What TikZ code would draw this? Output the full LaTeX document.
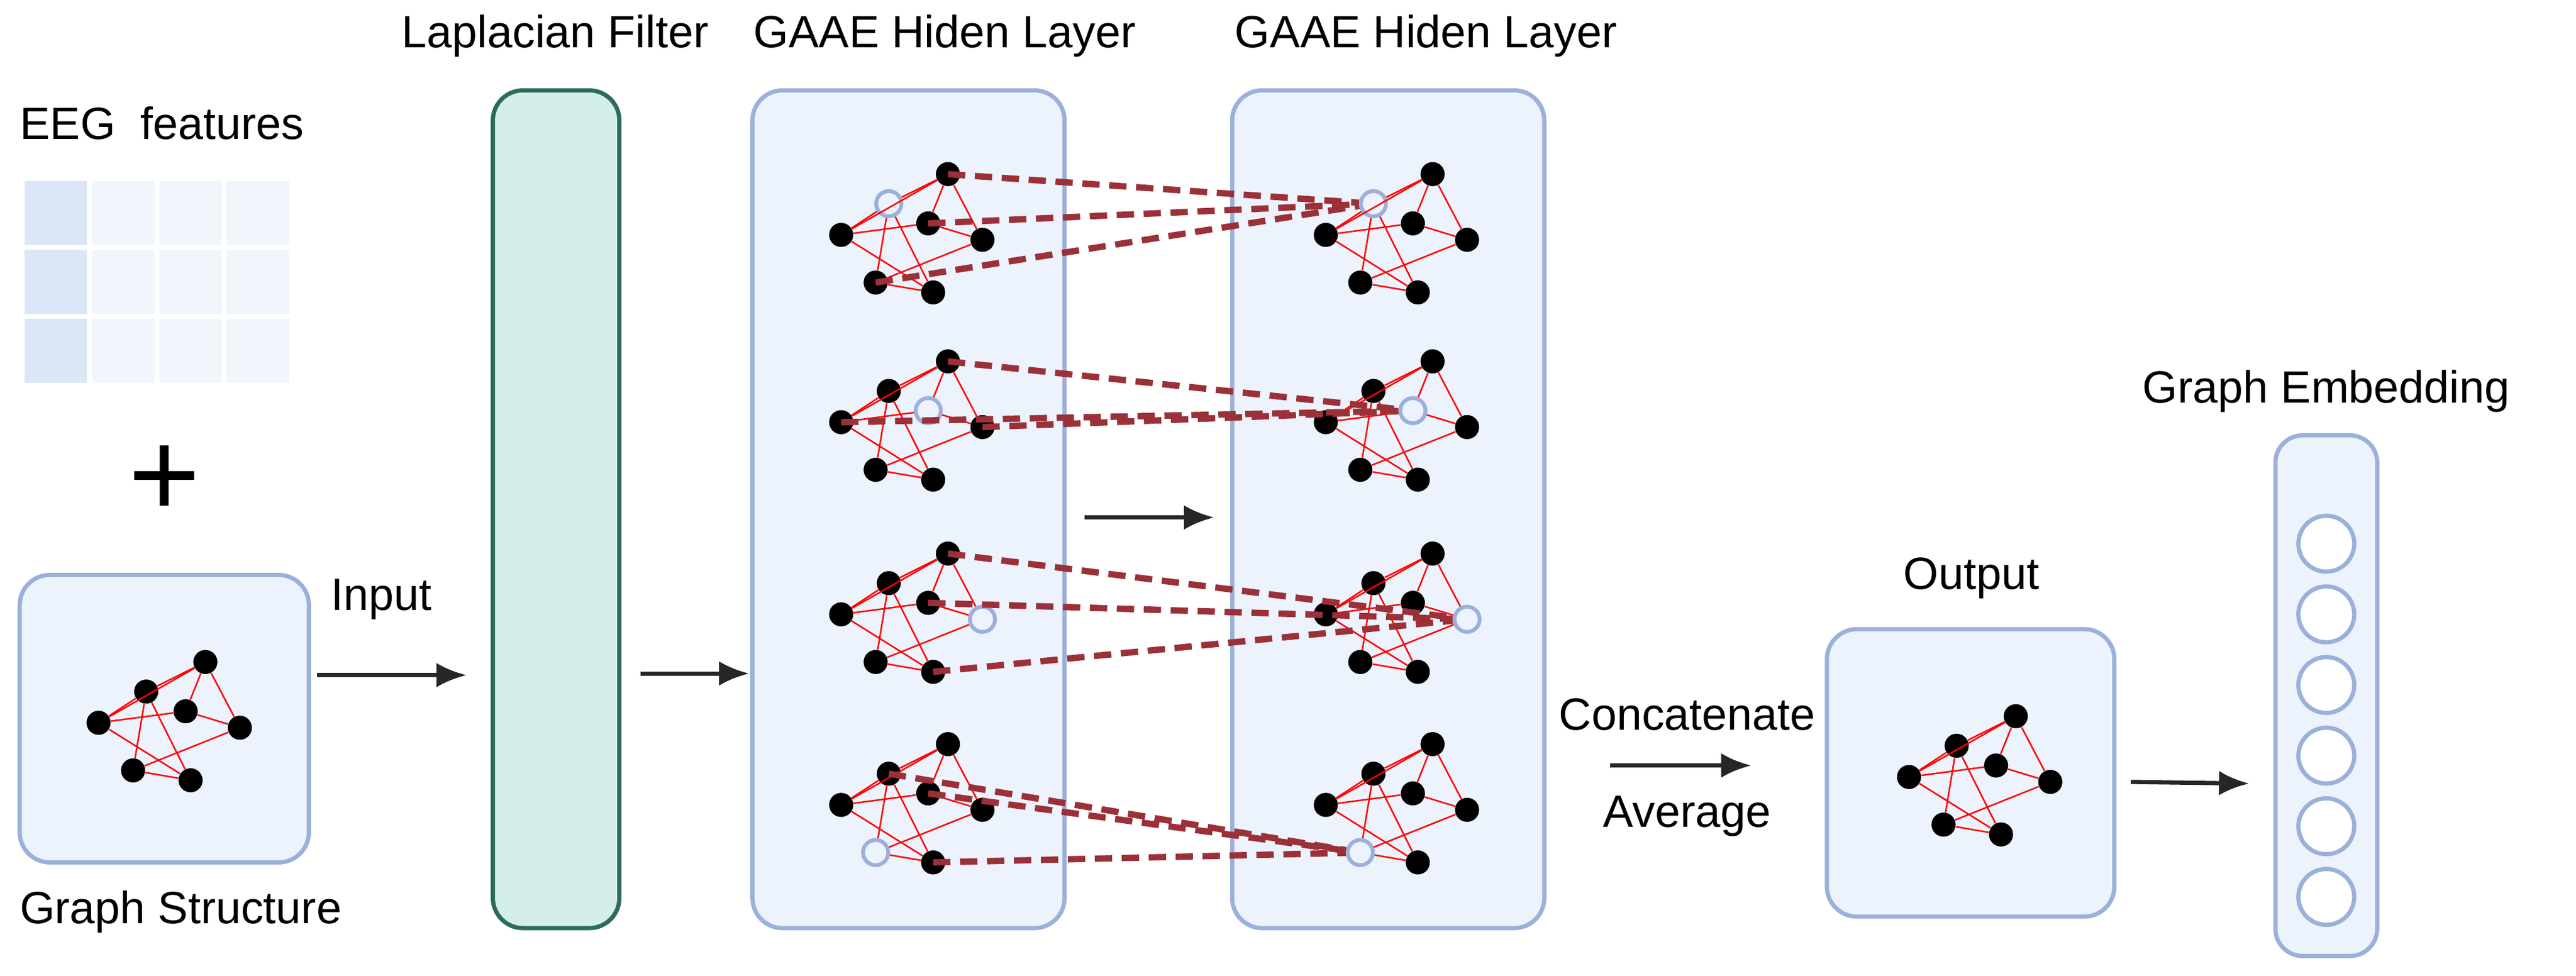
\documentclass[tikz,border=0pt]{standalone}
\usepackage{fontspec}
\setmainfont{Liberation Sans}
\usetikzlibrary{arrows.meta}
\definecolor{boxfill}{HTML}{EDF3FC}
\definecolor{boxline}{HTML}{9BB0DA}
\definecolor{lapfill}{HTML}{D4EEEA}
\definecolor{lapline}{HTML}{2D6B5C}
\definecolor{dashred}{HTML}{9B3038}
\definecolor{cellA}{HTML}{DCE6F7}
\definecolor{cellB}{HTML}{F1F5FC}
\tikzset{
 box/.style={draw=boxline,fill=boxfill,line width=2.2pt,rounded corners=0.55cm},
 blk/.style={circle,fill=black,inner sep=0pt,minimum size=0.44cm},
 hol/.style={circle,draw=boxline,fill=boxfill,line width=2pt,inner sep=0pt,minimum size=0.46cm},
 edge/.style={red,line width=0.8pt},
 dsh/.style={draw=dashred,line width=3.3pt,dash pattern=on 9pt off 5pt},
 arr/.style={-{Latex[length=0.55cm,width=0.45cm]},line width=2.2pt,black!85},
 lab/.style={font=\fontsize{23.5}{28}\selectfont,inner sep=0pt},
}
\newcommand\mygraph[4]{%
 \foreach \i/\x/\y in {1/512/143,2/541/124,3/577/106,4/565/136,5/598/146,6/533/172,7/568/178}{%
  \ifnum\i=#4\relax
   \node[hol] (#1\i) at (\x+#2,\y+#3) {};
  \else
   \node[blk] (#1\i) at (\x+#2,\y+#3) {};
  \fi}
 \foreach \a/\b in {1/2,1/3,2/3,1/4,1/7,2/6,2/7,3/4,3/5,4/5,5/6,6/7}{\draw[edge] (#1\a)--(#1\b);}
}
\begin{document}
\begin{tikzpicture}[x=0.03cm,y=-0.03cm]
\useasboundingbox (0,0) rectangle (1568,594);
\fill[white] (0,0) rectangle (1568,594);
% EEG features
\node[lab,anchor=west] (eeg) at (12,75) {EEG\ \ features};
\foreach \c in {0,1,2,3}{\foreach \r in {0,1,2}{
 \ifnum\c=0 \fill[cellA] (15+\c*41,110+\r*42) rectangle ++(38,39);
 \else \fill[cellB] (15+\c*41,110+\r*42) rectangle ++(38,39);\fi}}
\node[font=\fontsize{64}{64}\selectfont,inner sep=0pt] (plus) at (100,293) {+};
% graph structure
\draw[box] (12,350) rectangle (188,525);
\mygraph{gs}{-452}{297}{0}
\node[lab] (gslab) at (110,555) {Graph Structure};
\node[lab] (inp) at (232,365) {Input};
\coordinate (a1s) at (193,411); \coordinate (a1e) at (284,411);
\draw[arr] (a1s)--(a1e);
% Laplacian
\draw[draw=lapline,fill=lapfill,line width=2.2pt,rounded corners=0.55cm] (300,55) rectangle (377,565);
\node[lab] (laplab) at (338,22) {Laplacian Filter};
\coordinate (a2s) at (390,410); \coordinate (a2e) at (456,410);
\draw[arr] (a2s)--(a2e);
% GAAE boxes
\draw[box] (458,55) rectangle (648,565);
\draw[box] (750,55) rectangle (940,565);
\node[lab] (g1lab) at (575,22) {GAAE Hiden Layer};
\node[lab] (g2lab) at (868,22) {GAAE Hiden Layer};
\coordinate (a3s) at (660,315); \coordinate (a3e) at (739,315);
\draw[arr] (a3s)--(a3e);
\mygraph{La}{0}{0}{2}
\mygraph{Lb}{0}{114}{4}
\mygraph{Lc}{0}{231}{5}
\mygraph{Ld}{0}{347}{6}
\mygraph{Ra}{295}{0}{2}
\mygraph{Rb}{295}{114}{4}
\mygraph{Rc}{295}{231}{5}
\mygraph{Rd}{295}{347}{6}
\foreach \s in {3,4,6}{\draw[dsh] (La\s.center)--(Ra2);}
\foreach \s in {3,1,5}{\draw[dsh] (Lb\s.center)--(Rb4);}
\foreach \s in {3,4,7}{\draw[dsh] (Lc\s.center)--(Rc5);}
\foreach \s in {2,4,7}{\draw[dsh] (Ld\s.center)--(Rd6);}
% concatenate
\node[lab] (conc) at (1027,435) {Concatenate};
\node[lab] (avg) at (1027,497) {Average};
\coordinate (a4s) at (980,466); \coordinate (a4e) at (1066,466);
\draw[arr] (a4s)--(a4e);
% output
\draw[box] (1112,383) rectangle (1287,558);
\node[lab] (outlab) at (1200,352) {Output};
\mygraph{og}{650}{330}{0}
\coordinate (a5s) at (1297,476); \coordinate (a5e) at (1369,477);
\draw[arr] (a5s)--(a5e);
% embedding
\draw[box,rounded corners=0.5cm] (1385,265) rectangle (1447,582);
\node[lab] (emblab) at (1416,238) {Graph Embedding};
\foreach \k in {0,...,5}{\node[circle,draw=boxline,fill=white,line width=2.2pt,minimum size=1.02cm,inner sep=0pt] (e\k) at (1416,331+\k*43) {};}
\end{tikzpicture}
\end{document}
